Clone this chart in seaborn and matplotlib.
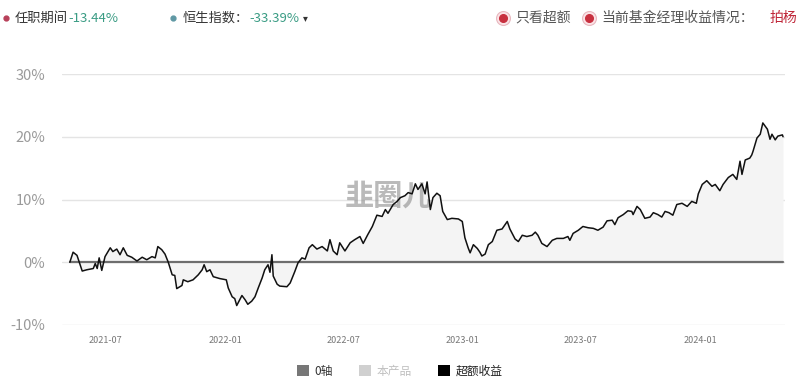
import matplotlib
matplotlib.use("Agg")
import matplotlib.pyplot as plt
from matplotlib.lines import Line2D
from matplotlib.patches import Patch
import seaborn as sns
import pandas as pd

# ---------------- data ----------------
dates = [
    "2021-05-08", "2021-05-13", "2021-05-19", "2021-05-27", "2021-06-03", "2021-06-13", "2021-06-16",
    "2021-06-19", "2021-06-22", "2021-06-26", "2021-07-01", "2021-07-09", "2021-07-13", "2021-07-19",
    "2021-07-24", "2021-07-29", "2021-08-04", "2021-08-11", "2021-08-19", "2021-08-27", "2021-09-03",
    "2021-09-11", "2021-09-16", "2021-09-20", "2021-09-26", "2021-10-01", "2021-10-06", "2021-10-12",
    "2021-10-16", "2021-10-19", "2021-10-27", "2021-10-29", "2021-11-05", "2021-11-13", "2021-11-21",
    "2021-11-27", "2021-11-30", "2021-12-04", "2021-12-09", "2021-12-14", "2021-12-24", "2022-01-03",
    "2022-01-06", "2022-01-12", "2022-01-16", "2022-01-19", "2022-01-27", "2022-02-01", "2022-02-05",
    "2022-02-11", "2022-02-16", "2022-02-21", "2022-02-27", "2022-03-03", "2022-03-08", "2022-03-11",
    "2022-03-14", "2022-03-16", "2022-03-22", "2022-03-26", "2022-04-06", "2022-04-11", "2022-04-18",
    "2022-04-23", "2022-04-29", "2022-05-04", "2022-05-10", "2022-05-15", "2022-05-22", "2022-05-30",
    "2022-06-07", "2022-06-11", "2022-06-16", "2022-06-22", "2022-06-26", "2022-07-04", "2022-07-12",
    "2022-07-19", "2022-07-27", "2022-08-01", "2022-08-08", "2022-08-15", "2022-08-22", "2022-08-30",
    "2022-09-04", "2022-09-08", "2022-09-16", "2022-09-22", "2022-09-27", "2022-10-04", "2022-10-09",
    "2022-10-15", "2022-10-20", "2022-10-24", "2022-10-30", "2022-11-04", "2022-11-07", "2022-11-12",
    "2022-11-16", "2022-11-22", "2022-11-27", "2022-12-01", "2022-12-08", "2022-12-15", "2022-12-25",
    "2022-12-31", "2023-01-04", "2023-01-09", "2023-01-12", "2023-01-17", "2023-01-23", "2023-01-27",
    "2023-01-30", "2023-02-04", "2023-02-09", "2023-02-15", "2023-02-22", "2023-03-02", "2023-03-10",
    "2023-03-14", "2023-03-22", "2023-03-27", "2023-04-02", "2023-04-09", "2023-04-17", "2023-04-22",
    "2023-04-26", "2023-05-02", "2023-05-10", "2023-05-18", "2023-05-25", "2023-06-04", "2023-06-11",
    "2023-06-14", "2023-06-19", "2023-06-27", "2023-07-04", "2023-07-12", "2023-07-20", "2023-07-27",
    "2023-08-04", "2023-08-10", "2023-08-18", "2023-08-22", "2023-08-27", "2023-09-04", "2023-09-11",
    "2023-09-17", "2023-09-19", "2023-09-25", "2023-09-30", "2023-10-07", "2023-10-15", "2023-10-20",
    "2023-10-27", "2023-11-02", "2023-11-07", "2023-11-13", "2023-11-19", "2023-11-25", "2023-12-03",
    "2023-12-11", "2023-12-18", "2023-12-25", "2023-12-28", "2024-01-03", "2024-01-10", "2024-01-18",
    "2024-01-23", "2024-01-30", "2024-02-04", "2024-02-12", "2024-02-19", "2024-02-25", "2024-03-01",
    "2024-03-04", "2024-03-09", "2024-03-16", "2024-03-19", "2024-03-21", "2024-03-27", "2024-04-01",
    "2024-04-05", "2024-04-12", "2024-04-16", "2024-04-19", "2024-04-24", "2024-04-28", "2024-05-05",
    "2024-05-06",
]
excess = [
    0.0, 1.6, 1.1, -1.4, -1.2, -1.0, -0.2,
    -1.0, 0.7, -1.3, 0.9, 2.3, 1.7, 2.1,
    1.2, 2.3, 1.1, 0.8, 0.2, 0.8, 0.4,
    0.9, 0.7, 2.5, 2.0, 1.3, 0.0, -2.0,
    -2.1, -4.2, -3.7, -2.8, -3.1, -2.8, -2.0,
    -1.2, -0.4, -1.5, -1.2, -2.3, -2.6, -2.8,
    -4.1, -5.5, -5.8, -6.9, -5.3, -6.0, -6.7,
    -6.2, -5.5, -4.1, -2.5, -1.2, -0.4, -1.6,
    1.2, -2.2, -3.5, -3.8, -3.9, -3.3, -1.5,
    -0.1, 0.7, 0.5, 2.3, 2.8, 2.1, 2.5,
    1.8, 3.6, 1.8, 1.2, 3.1, 1.8, 3.1,
    3.6, 4.1, 3.0, 4.4, 5.7, 7.5, 7.3,
    8.4, 7.8, 9.2, 9.7, 10.3, 10.6, 11.1,
    10.9, 12.5, 11.6, 12.5, 10.9, 12.8, 8.4,
    10.3, 11.0, 10.6, 8.1, 6.8, 7.0, 6.9,
    6.5, 3.9, 2.3, 1.5, 2.8, 2.2, 1.6,
    1.0, 1.3, 2.8, 3.3, 5.1, 5.3, 6.5,
    5.3, 3.7, 3.3, 4.3, 4.1, 4.3, 4.8,
    4.3, 3.0, 2.5, 3.5, 3.8, 3.8, 4.1,
    3.5, 4.6, 5.1, 5.7, 5.5, 5.4, 5.1,
    5.6, 6.6, 6.7, 6.0, 7.1, 7.6, 8.2,
    8.1, 7.6, 8.9, 8.4, 7.0, 7.2, 7.9,
    7.6, 7.2, 8.1, 7.9, 7.5, 9.2, 9.4,
    8.9, 9.7, 9.4, 10.9, 12.4, 13.0, 12.1,
    12.4, 11.4, 12.4, 13.5, 14.0, 13.2, 16.1,
    14.0, 16.3, 16.6, 17.1, 17.7, 19.8, 20.4,
    22.2, 21.2, 19.6, 20.4, 19.5, 20.1, 20.3,
    20.0,
]
y_ticks = [-10, 0, 10, 20, 30]
x_tick_labels = ["2021-07", "2022-01", "2022-07", "2023-01", "2023-07", "2024-01"]
legend_labels = ["0轴", "本产品", "超额收益"]
header_left = [("任职期间", "-13.44%"), ("恒生指数：", "-33.39%")]

df = pd.DataFrame({"date": pd.to_datetime(dates), "excess": excess})
df["zero"] = 0.0

# ---------------- style ----------------
sns.set_theme(style="white")
plt.rcParams["font.family"] = ["Noto Sans CJK SC", "DejaVu Sans"]
plt.rcParams["axes.unicode_minus"] = False

fig = plt.figure(figsize=(8.0, 3.83), dpi=100)
ax = fig.add_axes([62 / 800, 58 / 383, 723 / 800, 251 / 383])

ax.fill_between(df["date"], df["excess"], 0, color="#f4f4f4", linewidth=0, zorder=1)
sns.lineplot(data=df, x="date", y="zero", ax=ax, color="#6e6e6e", linewidth=1.6, zorder=2)
sns.lineplot(data=df, x="date", y="excess", ax=ax, color="#111111", linewidth=1.1, zorder=3)

ax.set_ylim(y_ticks[0], y_ticks[-1])
ax.set_yticks(y_ticks)
ax.set_yticklabels([f"{v}%" for v in y_ticks], color="#9a9a9a", fontsize=10.5)
ax.set_xlim(pd.Timestamp("2021-04-26"), pd.Timestamp("2024-05-09"))
tick_dates = pd.to_datetime([s + "-01" for s in x_tick_labels])
ax.set_xticks(tick_dates)
ax.set_xticklabels(x_tick_labels, color="#777777", fontsize=6.5)
ax.tick_params(axis="x", length=0, pad=8)
ax.tick_params(axis="y", length=0, pad=12)
ax.grid(axis="y", color="#e4e4e4", linewidth=1.0)
ax.grid(axis="x", visible=False)
for s in ax.spines.values():
    s.set_visible(False)
ax.set_xlabel("")
ax.set_ylabel("")

# watermark
ax.text(0.452, 0.515, "韭圈儿", transform=ax.transAxes, fontsize=21, fontweight="bold",
        style="italic", color="#8c8c8c", alpha=0.6, ha="center", va="center", zorder=2.5)

# ---------------- header ----------------
fig.canvas.draw()
renderer = fig.canvas.get_renderer()


def seq(x_px, y_px, parts):
    x = x_px
    for txt, col, fs in parts:
        t = fig.text(x / 800, 1 - y_px / 383, txt, color=col, fontsize=fs, ha="left", va="center")
        bb = t.get_window_extent(renderer=renderer)
        x += bb.width
    return x


hy = 18
for cx, col in ((6, "#b8405a"), (173, "#5f98a4")):
    fig.add_artist(Line2D([cx / 800], [1 - hy / 383], marker="o", markersize=3.5,
                          markerfacecolor=col, markeredgecolor=col,
                          transform=fig.transFigure))
seq(15, hy, [(header_left[0][0], "#333333", 9.5), (header_left[0][1], "#3a9c84", 9.5)])
end = seq(183, hy, [(header_left[1][0], "#333333", 9.5), (header_left[1][1], "#3a9c84", 9.5)])
fig.text((end + 6) / 800, 1 - hy / 383, "▾", color="#333333", fontsize=7, ha="center", va="center",
         family=["DejaVu Sans"])

for cx in (503, 589):
    fig.add_artist(Line2D([cx / 800], [1 - hy / 383], marker="o", markersize=10,
                          markerfacecolor="#fbe3e6", markeredgecolor="#e8b8bf", markeredgewidth=0.8,
                          transform=fig.transFigure))
    fig.add_artist(Line2D([cx / 800], [1 - hy / 383], marker="o", markersize=5.5,
                          markerfacecolor="#c8303f", markeredgecolor="#c8303f",
                          transform=fig.transFigure))
fig.text(515 / 800, 1 - hy / 383, "只看超额", color="#555555", fontsize=10, ha="left", va="center")
fig.text(601 / 800, 1 - hy / 383, "当前基金经理收益情况：", color="#555555", fontsize=10,
         ha="left", va="center")
fig.text(770 / 800, 1 - hy / 383, "拍杨", color="#c0283a", fontsize=10, ha="left", va="center")

# ---------------- legend ----------------
handles = [Patch(facecolor="#777777", edgecolor="none"),
           Patch(facecolor="#d0d0d0", edgecolor="none"),
           Patch(facecolor="#000000", edgecolor="none")]
leg = fig.legend(handles, legend_labels, loc="center", bbox_to_anchor=(400 / 800, 1 - 371 / 383),
                 ncol=3, frameon=False, handlelength=1.0, handleheight=1.0, handletextpad=0.5,
                 columnspacing=2.2, fontsize=8.5)
for t, c in zip(leg.get_texts(), ["#333333", "#c0c0c0", "#222222"]):
    t.set_color(c)

fig.savefig("out.png", dpi=100, facecolor="white")
